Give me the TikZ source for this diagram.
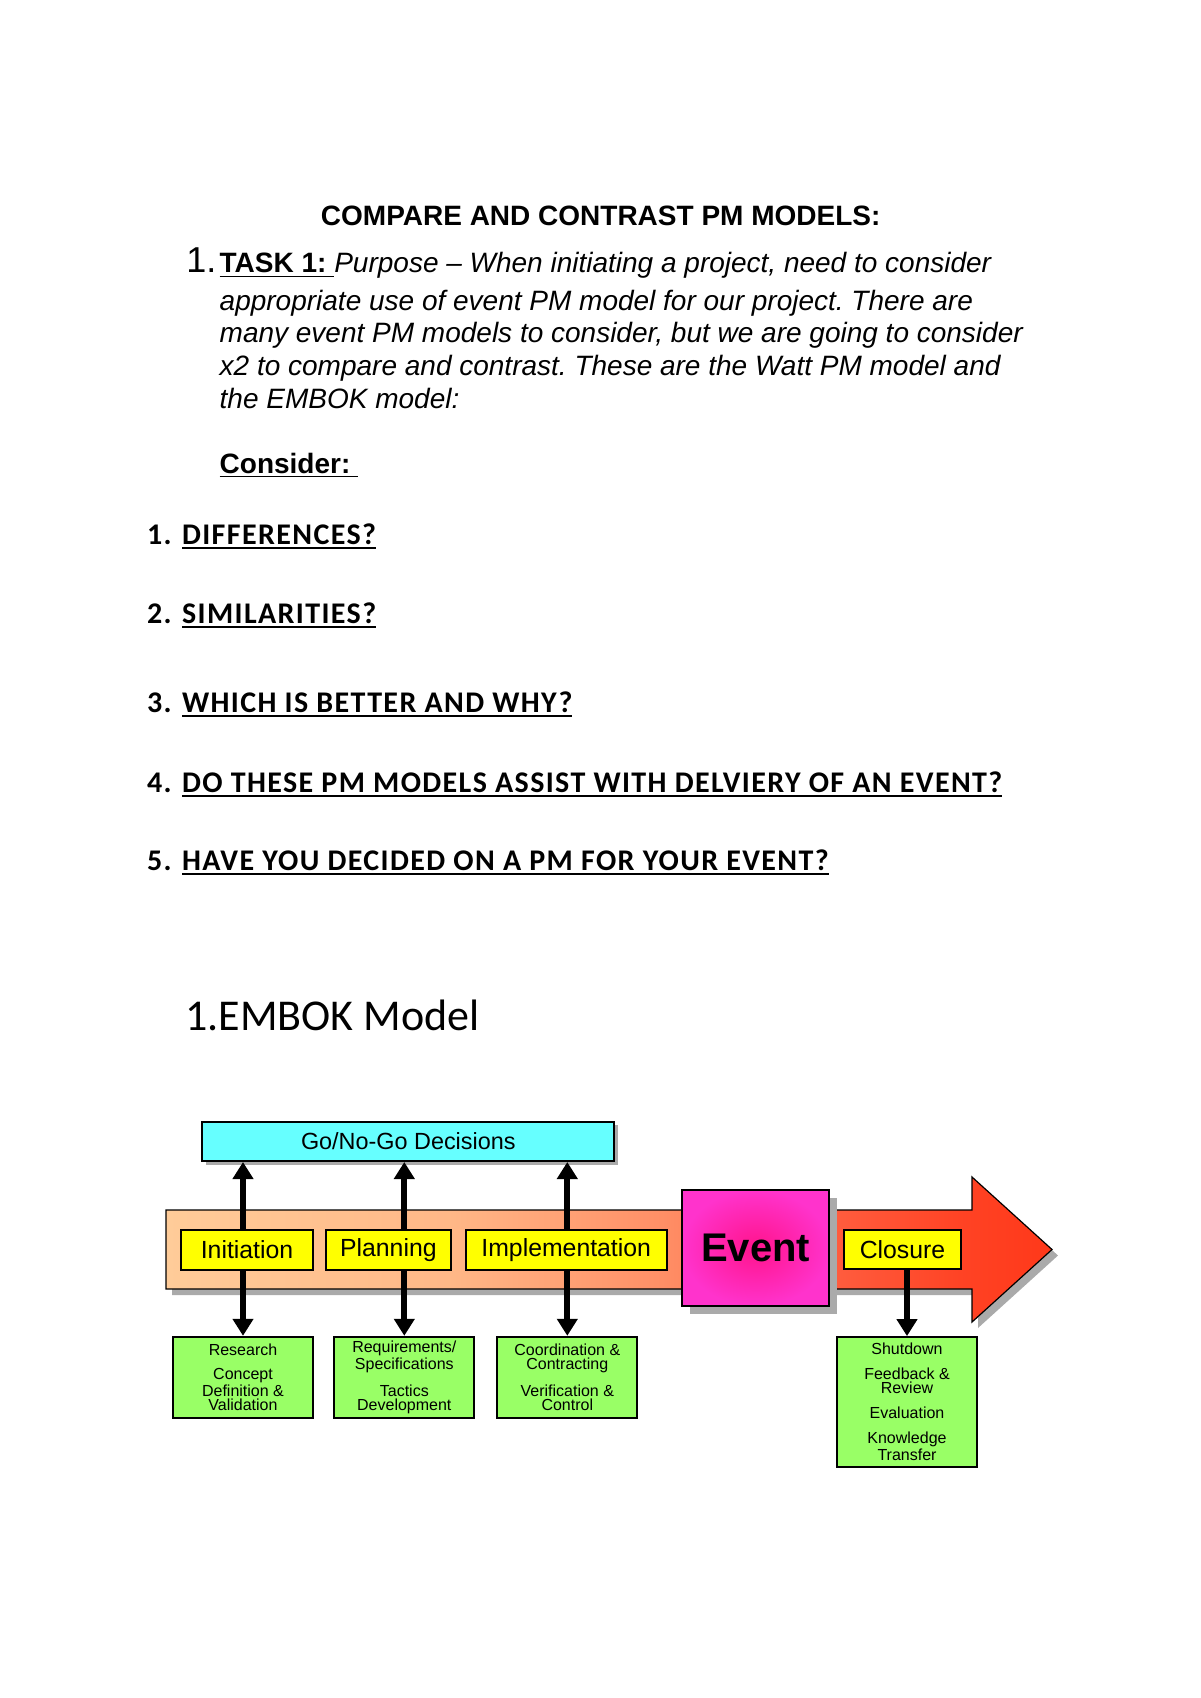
\documentclass[tikz,border=0pt]{standalone}
\usepackage{fontspec}
\setmainfont{Liberation Sans}
\newfontfamily\calib{Carlito}
\newfontfamily\calibls{Carlito}[LetterSpace=4.6]
\usetikzlibrary{arrows.meta}
\definecolor{gocyan}{RGB}{102,255,255}
\definecolor{yel}{RGB}{255,255,0}
\definecolor{grn}{RGB}{153,255,102}
\definecolor{evout}{RGB}{255,51,204}
\definecolor{evin}{RGB}{255,20,140}
\definecolor{shd}{RGB}{170,170,170}
\pgfdeclarehorizontalshading{bandsh}{100bp}{rgb(0bp)=(1,0.8,0.6); rgb(25bp)=(1,0.8,0.6); rgb(41bp)=(1,0.72,0.53); rgb(53bp)=(1,0.56,0.40); rgb(63bp)=(1,0.36,0.24); rgb(70bp)=(1,0.26,0.14); rgb(75bp)=(1,0.22,0.10); rgb(100bp)=(1,0.22,0.10)}
\newcommand{\ulbox}[3]{\setbox0\hbox{#3}\rlap{\rule[-#1]{\wd0}{#2}}\box0}
\begin{document}
\begin{tikzpicture}[x=0.5pt,y=-0.5pt,
  ybox/.style={draw=black, fill=yel, line width=1pt, inner sep=0pt, minimum height=20pt, font=\fontsize{12.4}{14}\selectfont},
  gbox/.style={draw=black, fill=grn, line width=0.9pt, inner sep=0pt, align=center, minimum width=70pt, font=\fontsize{8}{7}\selectfont},
  vlink/.style={line width=3pt, -{Triangle[width=10pt,length=8.5pt]}},
  txt/.style={anchor=base west, inner sep=0pt},
  body/.style={txt, font=\fontsize{14}{16}\selectfont\itshape},
  item/.style={txt, font=\calibls\bfseries\fontsize{15}{17}\selectfont}
]
\useasboundingbox (0,0) rectangle (1200,1698);

% ---------- text part ----------
\node[anchor=base, inner sep=0pt, font=\bfseries\fontsize{14}{16}\selectfont] (title) at (600.7,225) {COMPARE AND CONTRAST PM MODELS:};
\node[txt, font=\fontsize{18}{20}\selectfont] (one) at (186,272.7) {1.};
\node[body] (l1) at (219.3,272.7) {{\upshape\bfseries\ulbox{2.3pt}{0.6pt}{TASK 1:\ }}Purpose -- When initiating a project, need to consider};
\node[body] (l2) at (219.3,310.7) {appropriate use of event PM model for our project.\ There are};
\node[body] (l3) at (219.3,342.7) {many event PM models to consider, but we are going to consider};
\node[body] (l4) at (219.3,375) {x2 to compare and contrast.\ These are the Watt PM model and};
\node[body] (l5) at (219.3,408.3) {the EMBOK model:};
\node[txt, font=\bfseries\fontsize{14}{16}\selectfont] (cons) at (219.3,473.3) {\ulbox{1.8pt}{0.6pt}{Consider:\ }};

\node[item] (q1) at (146.7,544.3) {\makebox[17.5pt][l]{1.}\ulbox{2.3pt}{1pt}{DIFFERENCES?}};
\node[item] (q2) at (146.7,623.3) {\makebox[17.5pt][l]{2.}\ulbox{2.3pt}{1pt}{SIMILARITIES?}};
\node[item] (q3) at (146.7,712.3) {\makebox[17.5pt][l]{3.}\ulbox{2.3pt}{1pt}{WHICH IS BETTER AND WHY?}};
\node[item] (q4) at (146.7,792.3) {\makebox[17.5pt][l]{4.}\ulbox{2.3pt}{1pt}{DO THESE PM MODELS ASSIST WITH DELVIERY OF AN EVENT?}};
\node[item] (q5) at (146.7,870) {\makebox[17.5pt][l]{5.}\ulbox{2.3pt}{1pt}{HAVE YOU DECIDED ON A PM FOR YOUR EVENT?}};

\node[txt, font=\calib\fontsize{22}{26}\selectfont] (embok) at (185,1030) {1.EMBOK Model};

% ---------- diagram ----------
% band + arrow shadow
\fill[shd] (172,1216) -- (978,1216) -- (978,1183) -- (1058,1255.5) -- (978,1328) -- (978,1295) -- (172,1295) -- cycle;
% band + arrow
\shade[shading=bandsh, draw=black, line width=0.6pt] (166,1210) -- (972,1210) -- (972,1177) -- (1052,1249.5) -- (972,1322) -- (972,1289) -- (166,1289) -- cycle;

% Go/No-Go shadow and box
\fill[shd] (206.3,1124.7) rectangle (618.3,1164.5);
\node[draw=black, fill=gocyan, line width=1pt, inner sep=0pt, minimum width=206pt, minimum height=19.65pt, font=\fontsize{11.7}{14}\selectfont] (go) at (408.3,1141.35) {Go/No-Go Decisions};

% Event shadow and box
\fill[shd] (690.3,1198) rectangle (837,1314);
\node[draw=black, line width=1pt, inner color=evin, outer color=evout, inner sep=0pt, minimum width=73.35pt, minimum height=58pt, font=\bfseries\fontsize{20}{24}\selectfont] (ev) at (755.65,1248) {Event};

% phase boxes
\node[ybox, minimum width=66.3pt] (init) at (247,1250) {Initiation};
\node[ybox, minimum width=62.65pt] (plan) at (388.35,1250) {Planning};
\node[ybox, minimum width=100.5pt] (impl) at (566.2,1250) {Implementation};
\node[ybox, minimum width=58.5pt, minimum height=19.5pt] (clo) at (902.5,1249.5) {Closure};

% output boxes
\node[gbox, minimum height=40.8pt] (g1) at (243,1377.5) {Research\\[5pt]Concept\\Definition \&\\Validation};
\node[gbox, minimum height=40.8pt] (g2) at (404.3,1377.5) {Requirements/\\Specifications\\[5pt]Tactics\\Development};
\node[gbox, minimum height=40.8pt] (g3) at (567.3,1377.5) {Coordination \&\\Contracting\\[5pt]Verification \&\\Control};
\node[gbox, minimum height=65pt] (g4) at (907,1402) {Shutdown\\[5.5pt]Feedback \&\\Review\\[5.5pt]Evaluation\\[5.5pt]Knowledge\\Transfer};

% connectors
\draw[vlink] (g1.north |- init.north) -- (g1.north |- go.south);
\draw[vlink] (g2.north |- plan.north) -- (g2.north |- go.south);
\draw[vlink] (g3.north |- impl.north) -- (g3.north |- go.south);
\draw[vlink] (g1.north |- init.south) -- (g1.north);
\draw[vlink] (g2.north |- plan.south) -- (g2.north);
\draw[vlink] (g3.north |- impl.south) -- (g3.north);
\draw[vlink] (g4.north |- clo.south) -- (g4.north);
\end{tikzpicture}
\end{document}
